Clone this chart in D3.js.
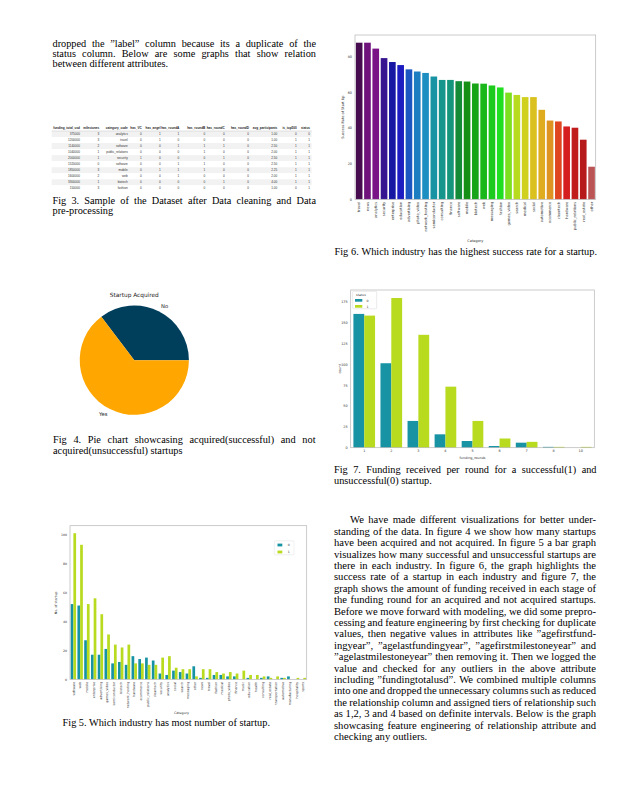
<!DOCTYPE html>
<html><head><meta charset="utf-8">
<script src="https://cdn.jsdelivr.net/npm/d3@7"></script>
<style>body{margin:0;background:#fff}svg{display:block}</style>
</head><body>
<script>
// ---------------- DATA ----------------
const topParagraph = [
  "dropped the ”label” column because its a duplicate of the",
  "status column. Below are some graphs that show relation",
  "between different attributes."
];
const mainParagraph = [
  "We have made different visualizations for better under-",
  "standing of the data. In figure 4 we show how many startups",
  "have been acquired and not acquired. In figure 5 a bar graph",
  "visualizes how many successful and unsuccessful startups are",
  "there in each industry. In figure 6, the graph highlights the",
  "success rate of a startup in each industry and figure 7, the",
  "graph shows the amount of funding received in each stage of",
  "the funding round for an acquired and not acquired startups.",
  "Before we move forward with modeling, we did some prepro-",
  "cessing and feature engineering by first checking for duplicate",
  "values, then negative values in attributes like ”agefirstfund-",
  "ingyear”, ”agelastfundingyear”, ”agefirstmilestoneyear” and",
  "”agelastmilestoneyear” then removing it. Then we logged the",
  "value and checked for any outliers in the above attribute",
  "including ”fundingtotalusd”. We combined multiple columns",
  "into one and dropped the unnecessary columns such as reduced",
  "the relationship column and assigned tiers of relationship such",
  "as 1,2, 3 and 4 based on definite intervals. Below is the graph",
  "showcasing feature engineering of relationship attribute and",
  "checking any outliers."
];
const fig3Caption = ["Fig 3. Sample of the Dataset after Data cleaning and Data", "pre-processing"];
const fig4Caption = ["Fig 4. Pie chart showcasing acquired(successful) and not", "acquired(unsuccessful) startups"];
const fig5Caption = "Fig 5. Which industry has most number of startup.";
const fig6Caption = "Fig 6. Which industry has the highest success rate for a startup.";
const fig7Caption = ["Fig 7. Funding received per round for a successful(1) and", "unsuccessful(0) startup."];

// Table (Fig 3)
const tableColumns = ["funding_total_usd","milestones","category_code","has_VC","has_angel","has_roundA","has_roundB","has_roundC","has_roundD","avg_participants","is_top500","status"];
const tableRows = [
  ["375000","3","analytics","0","1","1","0","0","0","1.00","0","0"],
  ["1200000","3","travel","0","1","0","0","0","0","1.00","1","1"],
  ["1140000","2","software","0","0","1","1","1","0","2.50","1","1"],
  ["1040000","1","public_relations","0","0","0","1","0","0","2.00","1","1"],
  ["2000000","1","security","1","0","0","0","1","0","2.50","1","1"],
  ["1520000","0","software","0","0","1","1","0","0","2.50","1","1"],
  ["1850000","3","mobile","0","1","1","1","0","0","2.25","1","1"],
  ["1600000","2","web","0","0","1","0","0","0","2.00","1","1"],
  ["3300000","1","biotech","0","0","0","0","1","0","4.00","1","1"],
  ["150000","3","fashion","0","0","0","0","0","0","1.00","0","1"]
];

// Pie (Fig 4)
const pieLabels = ["No","Yes"];
const pieValues = [326, 597];

// Fig 5
const fig5Categories = ["software","web","mobile","enterprise","advertising","games_video","semiconductor","biotech","network_hosting","hardware","ecommerce","public_relations","cleantech","security","analytics","social","search","messaging","other","news","travel","fashion","medical","photo_video","finance","music","education","health","consulting","real_estate","transportation","automotive","manufacturing","hospitality","sports"];
const fig5Status0 = [52,51,27,17,17,21,11,12,10,16,14,15,13,4,3,6,5,4,9,1,1,3,3,2,2,0,1,0,1,2,0,1,2,0,0];
const fig5Status1 = [101,93,52,56,45,31,24,22,24,11,11,10,10,15,16,8,7,7,2,7,7,5,4,5,4,6,3,3,2,1,2,1,0,1,1];
const fig5Ticks = [0,20,40,60,80,100];

// Fig 6
const fig6Categories = ["travel","news","analytics","security","enterprise","education","advertising","photo_video","network_hosting","semiconductor","consulting","finance","software","mobile","biotech","web","messaging","fashion","games_video","search","medical","social","automotive","ecommerce","cleantech","hardware","public_relations","real_estate","other"];
const fig6Rates = [87.5,87.5,84.2,78.9,76.7,75.0,72.6,71.4,70.6,68.6,66.7,66.7,66.0,65.8,64.7,64.6,63.6,62.5,59.6,58.3,57.1,57.1,50.0,44.0,43.5,40.7,40.0,33.3,18.2];
const fig6Ticks = [0,20,40,60,80];

// Fig 7
const fundingRounds = ["1","2","3","4","5","6","7","8","10"];
const fig7Status0 = [160,101,32,16,8,2,6,1,0];
const fig7Status1 = [158,179,135,73,32,11,7,1,1];
const fig7Ticks = [0,25,50,75,100,125,150,175];
const statusKeys = ["0","1"];

// ---------------- STYLE HELPERS ----------------
const SERIF = "'Liberation Serif','Times New Roman',serif";
const SANS = "'DejaVu Sans',sans-serif";
const TABLEFONT = "'Liberation Sans',Arial,sans-serif";
const SPINE = "#b5b5b5";

// matplotlib nipy_spectral colormap + seaborn desaturation
const nipy = {
  r:[0,0.4667,0.5333,0,0,0,0,0,0,0,0,0,0,0.7333,0.9333,1,1,1,0.8667,0.8,0.8],
  g:[0,0,0,0,0,0.4667,0.6,0.6667,0.6667,0.6,0.7333,0.8667,1,1,0.9333,0.8,0.6,0,0,0,0.8],
  b:[0,0.5333,0.6,0.6667,0.8667,0.8667,0.8667,0.6667,0.5333,0,0,0,0,0,0,0,0,0,0,0,0.8]
};
function nipyAt(t){
  const f = t*20, i = Math.min(19, Math.floor(f)), u = f - i;
  const ch = a => a[i] + (a[i+1]-a[i])*u;
  const h = d3.hsl(d3.rgb(ch(nipy.r)*255, ch(nipy.g)*255, ch(nipy.b)*255));
  h.s *= 0.75;
  return h.formatHex();
}
function palette(n){ return d3.range(n).map(i => nipyAt((i+1)/(n+1))); }

const svg = d3.select("body").append("svg").attr("width",640).attr("height",788);
svg.append("rect").attr("x",0).attr("y",0).attr("width",640).attr("height",788).attr("fill","#fff");

const measurer = svg.append("text").attr("font-family",SERIF).attr("font-size",10).attr("x",-1000).attr("y",-1000);
function measure(str, size){ measurer.attr("font-size",size).text(str); return measurer.node().getComputedTextLength(); }

function textLine(g, str, x, y, width, justify, size){
  const t = g.append("text").attr("y",y).attr("font-family",SERIF).attr("font-size",size).attr("fill","#000");
  const words = str.split(" ");
  if(!justify || words.length < 2){ t.attr("x",x).text(str); return t; }
  const widths = words.map(w => measure(w, size));
  const gap = (width - d3.sum(widths)) / (words.length - 1);
  let cx = x;
  words.forEach((w,i) => {
    t.append("tspan").attr("x",cx).text(i < words.length-1 ? w + " " : w);
    cx += widths[i] + gap;
  });
  return t;
}
function paragraph(lines, x, y0, lh, width, size, indent){
  const g = svg.append("g");
  lines.forEach((l,i) => {
    const last = i === lines.length-1;
    const ind = (i===0 && indent) ? indent : 0;
    textLine(g, l, x+ind, y0 + i*lh, width-ind, !last, size);
  });
}

const FS = 10.3;
const FS_MAIN = 10.6;
// ---------------- TEXT BLOCKS ----------------
paragraph(topParagraph, 52.5, 46.5, 10.2, 263.5, FS);
paragraph(fig3Caption, 52.5, 203.5, 10.8, 263.5, FS);
paragraph(fig4Caption, 53, 443.3, 11, 262.5, FS);
textLine(svg.append("g"), fig6Caption, 334.5, 255, 262.5, true, FS);
paragraph(fig7Caption, 334, 472.8, 10.9, 262.5, FS);
textLine(svg.append("g"), fig5Caption, 0, 726, 0, false, FS).attr("x",270).attr("text-anchor","end");
paragraph(mainParagraph, 334, 523.3, 11.4, 262, FS_MAIN, 16);

// ---------------- TABLE (Fig 3) ----------------
(function(){
  const g = svg.append("g");
  const colRight = [80,99.3,127.7,141.7,160.7,179.3,205.3,224.7,249,277.3,296.7,310];
  const left = 51.7, right = 311.7, headerY = 127.6, rowY0 = 134, rowH = 6.04, fs = 3.1;
  const rowScale = d3.scaleLinear().domain([0,1]).range([rowY0, rowY0+rowH]);
  g.selectAll("rect.row").data(tableRows).join("rect")
    .attr("x",left).attr("width",right-left)
    .attr("y",(d,i)=>rowScale(i)-rowH/2).attr("height",rowH)
    .attr("fill",(d,i)=> i%2===0 ? "#f2f2f2" : "#fff");
  g.append("line").attr("x1",left).attr("x2",right).attr("y1",rowY0-rowH/2).attr("y2",rowY0-rowH/2).attr("stroke","#bbb").attr("stroke-width",0.4);
  g.selectAll("text.h").data(tableColumns).join("text")
    .attr("x",(d,i)=>colRight[i]).attr("y",headerY+1.1).attr("text-anchor","end")
    .attr("font-family",TABLEFONT).attr("font-size",fs).attr("font-weight","bold").attr("fill","#222").text(d=>d);
  tableRows.forEach((row,ri) => {
    g.selectAll(null).data(row).join("text")
      .attr("x",(d,i)=>colRight[i]).attr("y",rowScale(ri)+1.1).attr("text-anchor","end")
      .attr("font-family",TABLEFONT).attr("font-size",fs).attr("fill","#333").text(d=>d);
  });
})();

// ---------------- PIE (Fig 4) ----------------
(function(){
  const cx = 134.3, cy = 360.2, r = 54.6;
  const g = svg.append("g").attr("transform",`translate(${cx},${cy})`);
  const pieColors = ["#003f5c","#ffa600"];
  const pie = d3.pie().sort(null).startAngle(Math.PI/2).endAngle(Math.PI/2 - 2*Math.PI);
  const arcs = pie(pieValues);
  const arc = d3.arc().innerRadius(0).outerRadius(r);
  g.selectAll("path").data(arcs).join("path").attr("d",arc).attr("fill",(d,i)=>pieColors[i]);
  const labelArc = d3.arc().innerRadius(r*1.1).outerRadius(r*1.1);
  g.selectAll("text.lbl").data(arcs).join("text")
    .attr("x",d=>labelArc.centroid(d)[0]).attr("y",d=>labelArc.centroid(d)[1])
    .attr("dy","0.35em")
    .attr("text-anchor",d=>labelArc.centroid(d)[0] > 0 ? "start" : "end")
    .attr("font-family",SANS).attr("font-size",5.3).attr("fill","#222")
    .text((d,i)=>pieLabels[i]);
  svg.append("text").attr("x",cx).attr("y",297.2).attr("text-anchor","middle")
    .attr("font-family",SANS).attr("font-size",5.8).attr("fill","#222").text("Startup Acquired");
})();

// generic axis styling
function styleAxis(sel, fs){
  sel.select(".domain").remove();
  sel.selectAll("line").remove();
  sel.selectAll("text").attr("font-family",SANS).attr("font-size",fs).attr("fill","#333");
}

// ---------------- Fig 6 ----------------
(function(){
  const L=355, R=595.7, T=35, B=199.3;
  const colors = palette(fig6Categories.length);
  const x = d3.scaleBand().domain(fig6Categories).range([L,R]).paddingInner(0.2).paddingOuter(0.1);
  const y = d3.scaleLinear().domain([0,91.8]).range([B,T]);
  const g = svg.append("g");
  g.selectAll("rect.bar").data(fig6Rates).join("rect")
    .attr("x",(d,i)=>x(fig6Categories[i])).attr("width",x.bandwidth())
    .attr("y",d=>y(d)).attr("height",d=>B-y(d))
    .attr("fill",(d,i)=>colors[i]);
  g.append("rect").attr("x",L).attr("y",T).attr("width",R-L).attr("height",B-T)
    .attr("fill","none").attr("stroke",SPINE).attr("stroke-width",0.7);
  const ya = g.append("g").attr("transform",`translate(${L},0)`).call(d3.axisLeft(y).tickValues(fig6Ticks).tickSize(0).tickPadding(3));
  styleAxis(ya, 3.4);
  const xa = g.append("g").attr("transform",`translate(0,${B})`).call(d3.axisBottom(x).tickSize(0));
  styleAxis(xa, 3.6);
  xa.selectAll("text").attr("y",0).attr("x",-2.5).attr("dy","0.35em").attr("transform","rotate(-90)").style("text-anchor","end");
  g.append("text").attr("x",(L+R)/2).attr("y",242).attr("text-anchor","middle").attr("font-family",SANS).attr("font-size",3.5).attr("fill","#333").text("Category");
  g.append("text").attr("transform",`translate(343.5,${(T+B)/2}) rotate(-90)`).attr("text-anchor","middle").attr("font-family",SANS).attr("font-size",3.5).attr("fill","#333").text("Success Rate of Start Up");
})();

// grouped bar helper
function groupedChart(o){
  const {L,R,T,B,cats,s0,s1,ymax,ticks,fsTick} = o;
  const cols = palette(2);
  const x = d3.scaleBand().domain(cats).range([L,R]).paddingInner(0.2).paddingOuter(0.1);
  const xs = d3.scaleBand().domain(statusKeys).range([0,x.bandwidth()]);
  const y = d3.scaleLinear().domain([0,ymax]).range([B,T]);
  const g = svg.append("g");
  [s0,s1].forEach((series,k) => {
    g.selectAll(null).data(series).join("rect")
      .attr("x",(d,i)=>x(cats[i]) + xs(statusKeys[k])).attr("width",xs.bandwidth())
      .attr("y",d=>y(d)).attr("height",d=>B-y(d))
      .attr("fill",cols[k]);
  });
  g.append("rect").attr("x",L).attr("y",T).attr("width",R-L).attr("height",B-T)
    .attr("fill","none").attr("stroke",SPINE).attr("stroke-width",0.7);
  const ya = g.append("g").attr("transform",`translate(${L},0)`).call(d3.axisLeft(y).tickValues(ticks).tickSize(0).tickPadding(3));
  styleAxis(ya, fsTick);
  const xa = g.append("g").attr("transform",`translate(0,${B})`).call(d3.axisBottom(x).tickSize(0));
  styleAxis(xa, fsTick);
  return {g, x, y, xa, cols};
}

// ---------------- Fig 7 ----------------
(function(){
  const c = groupedChart({L:350.7,R:594.3,T:290,B:447.7,cats:fundingRounds,s0:fig7Status0,s1:fig7Status1,ymax:188.6,ticks:fig7Ticks,fsTick:3.4});
  c.xa.selectAll("text").attr("y",2.2).attr("dy","0.71em");
  c.g.append("text").attr("x",472.5).attr("y",459.3).attr("text-anchor","middle").attr("font-family",SANS).attr("font-size",3.4).attr("fill","#333").text("funding_rounds");
  c.g.append("text").attr("transform",`translate(341,368.8) rotate(-90)`).attr("text-anchor","middle").attr("font-family",SANS).attr("font-size",3.4).attr("fill","#333").text("count");
  const lg = c.g.append("g");
  lg.append("rect").attr("x",352.7).attr("y",291.3).attr("width",24).attr("height",17.5).attr("rx",0.8)
    .attr("fill","#fff").attr("fill-opacity",0.8).attr("stroke","#d6d6d6").attr("stroke-width",0.5);
  lg.append("text").attr("x",356).attr("y",296.2).attr("font-family",SANS).attr("font-size",3.2).attr("fill","#333").text("status");
  statusKeys.forEach((k,i) => {
    lg.append("rect").attr("x",355).attr("y",299 + i*6).attr("width",7.3).attr("height",2.7).attr("fill",c.cols[i]);
    lg.append("text").attr("x",366.5).attr("y",301.5 + i*6).attr("font-family",SANS).attr("font-size",3.2).attr("fill","#333").text(k);
  });
})();

// ---------------- Fig 5 ----------------
(function(){
  const c = groupedChart({L:70,R:306.7,T:525.7,B:679.3,cats:fig5Categories,s0:fig5Status0,s1:fig5Status1,ymax:106.2,ticks:fig5Ticks,fsTick:3.2});
  c.xa.selectAll("text").attr("y",0).attr("x",-2.5).attr("dy","0.35em").attr("transform","rotate(-90)").style("text-anchor","end").attr("font-size",3.2);
  c.g.append("text").attr("x",181.5).attr("y",714.3).attr("text-anchor","middle").attr("font-family",SANS).attr("font-size",3.3).attr("fill","#333").text("Category");
  c.g.append("text").attr("transform",`translate(57,603) rotate(-90)`).attr("text-anchor","middle").attr("font-family",SANS).attr("font-size",3.3).attr("fill","#333").text("No. of startup");
  const lg = c.g.append("g");
  lg.append("rect").attr("x",274.3).attr("y",540.8).attr("width",19.7).attr("height",14).attr("rx",0.8)
    .attr("fill","#fff").attr("stroke","#e0e0e0").attr("stroke-width",0.5);
  statusKeys.forEach((k,i) => {
    lg.append("rect").attr("x",277.5).attr("y",543.6 + i*7).attr("width",4.8).attr("height",2.8).attr("fill",c.cols[i]);
    lg.append("text").attr("x",287.7).attr("y",546.1 + i*7).attr("font-family",SANS).attr("font-size",3.1).attr("fill","#333").text(k);
  });
})();

measurer.remove();
</script>
</body></html>
